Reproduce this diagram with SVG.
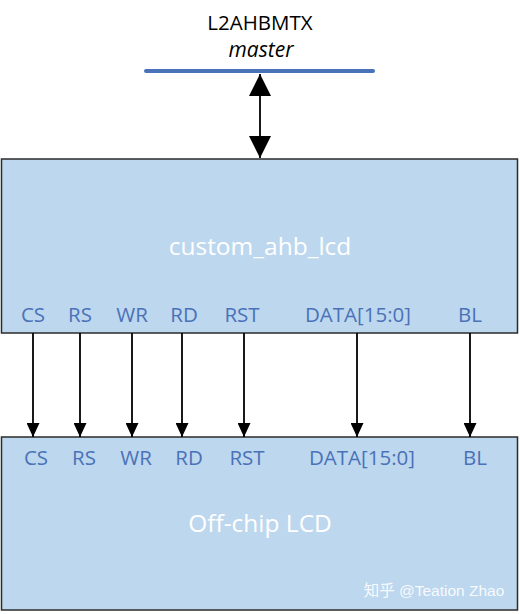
<svg xmlns="http://www.w3.org/2000/svg" width="520" height="614" viewBox="0 0 520 614">
<defs>
<style>
.box{fill:#BDD7EE;stroke:#2b2b2b;stroke-width:1.5}
.pin{font-family:"Open Sans","Liberation Sans",sans-serif;font-size:20.5px;fill:#4A72B8;text-anchor:middle}
.title{font-family:"Open Sans","Liberation Sans",sans-serif;font-size:24.5px;fill:#ffffff;text-anchor:middle}
.conn{stroke:#000;stroke-width:1.8;fill:none}
</style>
<marker id="ah" viewBox="0 0 10 10" refX="10" refY="5" markerWidth="14" markerHeight="13" markerUnits="userSpaceOnUse" orient="auto" preserveAspectRatio="none">
<path d="M0,0 L10,5 L0,10 Z" fill="#000"/>
</marker>
<marker id="bh" viewBox="0 0 10 10" refX="10" refY="5" markerWidth="22" markerHeight="22" markerUnits="userSpaceOnUse" orient="auto-start-reverse">
<path d="M0,0 L10,5 L0,10 Z" fill="#000"/>
</marker>
</defs>
<rect width="520" height="614" fill="#fff"/>
<g id="master">
<text x="260" y="30" font-family="Open Sans,Liberation Sans,sans-serif" font-size="20.5" text-anchor="middle" fill="#000">L2AHBMTX</text>
<text x="261" y="57" font-family="Open Sans,Liberation Sans,sans-serif" font-size="21" font-style="italic" text-anchor="middle" fill="#000">master</text>
<line x1="146" y1="71" x2="373" y2="71" stroke="#4A72B8" stroke-width="4" stroke-linecap="round"/>
</g>
<g id="custom_ahb_lcd">
<rect class="box" x="1.5" y="159" width="516" height="174"/>
<text class="title" x="260" y="255">custom_ahb_lcd</text>
<text class="pin" x="33" y="322">CS</text>
<text class="pin" x="80" y="322">RS</text>
<text class="pin" x="132" y="322">WR</text>
<text class="pin" x="184" y="322">RD</text>
<text class="pin" x="242" y="322">RST</text>
<text class="pin" x="358" y="322">DATA[15:0]</text>
<text class="pin" x="470" y="322">BL</text>
</g>
<g id="offchip_lcd">
<rect class="box" x="1.5" y="437" width="516" height="173"/>
<text class="pin" x="36" y="465">CS</text>
<text class="pin" x="84" y="465">RS</text>
<text class="pin" x="136" y="465">WR</text>
<text class="pin" x="189" y="465">RD</text>
<text class="pin" x="247" y="465">RST</text>
<text class="pin" x="362" y="465">DATA[15:0]</text>
<text class="pin" x="475" y="465">BL</text>
<text class="title" x="260" y="532">Off-chip LCD</text>
<text x="434" y="596" font-family="Liberation Sans,Noto Sans CJK SC,sans-serif" font-size="15.5" fill="#ffffff" fill-opacity="0.9" text-anchor="middle">知乎 @Teation Zhao</text>
</g>
<g id="connectors">
<line class="conn" x1="260" y1="74" x2="260" y2="158" stroke-width="4" marker-start="url(#bh)" marker-end="url(#bh)"/>
<line class="conn" x1="33" y1="333" x2="33" y2="437" marker-end="url(#ah)"/>
<line class="conn" x1="80" y1="333" x2="80" y2="437" marker-end="url(#ah)"/>
<line class="conn" x1="132" y1="333" x2="132" y2="437" marker-end="url(#ah)"/>
<line class="conn" x1="182" y1="333" x2="182" y2="437" marker-end="url(#ah)"/>
<line class="conn" x1="244" y1="333" x2="244" y2="437" marker-end="url(#ah)"/>
<line class="conn" x1="357" y1="333" x2="357" y2="437" marker-end="url(#ah)"/>
<line class="conn" x1="470" y1="333" x2="470" y2="437" marker-end="url(#ah)"/>
</g>
</svg>
